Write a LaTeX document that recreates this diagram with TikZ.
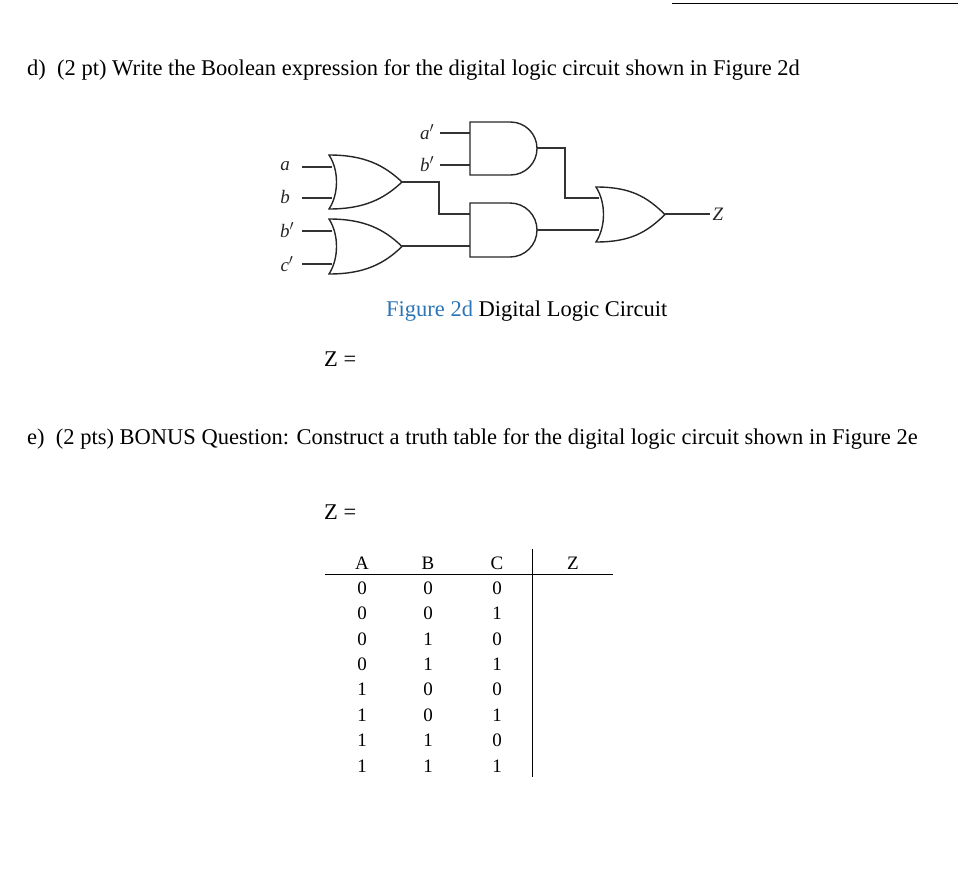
\documentclass[tikz,border=0pt]{standalone}
\usepackage{fontspec}
\setmainfont{Liberation Serif}
\begin{document}
\begin{tikzpicture}[x=1pt,y=-1pt,
  txt/.style={anchor=base west,inner sep=0,font=\fontsize{22.5}{26}\selectfont},
  lab/.style={inner sep=0,font=\fontsize{19}{21}\selectfont\itshape, text=black!85},
  cell/.style={inner sep=0,font=\fontsize{19}{22}\selectfont},
  gate/.style={line width=1.4pt, draw=black!85},
  wire/.style={line width=1.1pt, draw=black!80}]
\useasboundingbox (0,0) rectangle (958,881);
\draw[line width=0.8pt] (672,3) -- (958,3);
\node[txt] (d) at (27,75) {d)\ \ (2 pt) Write the Boolean expression for the digital logic circuit shown in Figure 2d};
\node[txt] (cap) at (386,316) {\textcolor[HTML]{2E75B6}{Figure 2d} Digital Logic Circuit};
\node[txt] (z1) at (324,366) {Z =};
\node[txt] (e) at (27,444) {e)\ \ (2 pts) BONUS Question: Construct a truth table for the digital logic circuit shown in Figure 2e};
\node[txt] (z2) at (324,519) {Z =};
\newcommand\orgate[4]{%
  \draw[gate] (#1,#2) .. controls ({#1+10},{(#2+#3)/2-12}) and ({#1+10},{(#2+#3)/2+12}) .. (#1,#3)
   .. controls ({#1+35},#3) and ({#4-18},{#3-10}) .. (#4,{(#2+#3)/2})
   .. controls ({#4-18},{#2+10}) and ({#1+35},#2) .. (#1,#2) -- cycle;}
\newcommand\andgate[4]{%
  \draw[gate] ({#4-(#3-#2)/2},#3) -- (#1,#3) -- (#1,#2) -- ({#4-(#3-#2)/2},#2)
   arc[start angle=-90,end angle=90,radius={(#3-#2)/2}];}
\orgate{329}{155}{209}{402}
\orgate{329}{219}{274}{402}
\andgate{470}{122}{175}{537}
\andgate{470}{203}{257}{537}
\orgate{596}{187}{242}{665}
\coordinate (o1) at (402,182); \coordinate (o2) at (402,246);
\coordinate (a1o) at (537,148); \coordinate (a2o) at (537,230);
\coordinate (o3o) at (665,214);
\coordinate (a2i1) at (470,214); \coordinate (a2i2) at (470,246);
\coordinate (o3i1) at (599,198); \coordinate (o3i2) at (599,230);
\node[lab] (a) at (285,166) {a};
\node[lab] (b) at (285,197) {b};
\node[lab] (bp) at (287,230) {b$'$};
\node[lab] (cp) at (287,264) {c$'$};
\node[lab] (ap2) at (427,132) {a$'$};
\node[lab] (bp2) at (427,164) {b$'$};
\node[lab] (Z) at (718,214) {Z};
\draw[wire] (302,167) -- (332,167);
\draw[wire] (302,198) -- (332,198);
\draw[wire] (302,231) -- (332,231);
\draw[wire] (302,264) -- (332,264);
\draw[wire] (440,133) -- (470,133);
\draw[wire] (440,165) -- (470,165);
\draw[wire] (o1) -| (439,214) -- (a2i1);
\draw[wire] (o2) -- (a2i2);
\draw[wire] (a1o) -| (565,198) -- (o3i1);
\draw[wire] (a2o) -- (o3i2);
\draw[wire] (o3o) -- ([xshift=-3pt]Z.west);
\draw[line width=1pt] (325,574) -- (613,574);
\draw[line width=1pt] (532,549) -- (532,777);
\foreach \t/\x in {A/362,B/428,C/497,Z/573}
  \node[cell] (h\t) at (\x,563) {\t};
\foreach \r in {0,...,7}{
  \pgfmathtruncatemacro\A{int(\r/4)}
  \pgfmathtruncatemacro\B{mod(int(\r/2),2)}
  \pgfmathtruncatemacro\C{mod(\r,2)}
  \node[cell] (ra\r) at (362,{588+25.4*\r}) {\A};
  \node[cell] (rb\r) at (428,{588+25.4*\r}) {\B};
  \node[cell] (rc\r) at (497,{588+25.4*\r}) {\C};
}
\end{tikzpicture}
\end{document}
